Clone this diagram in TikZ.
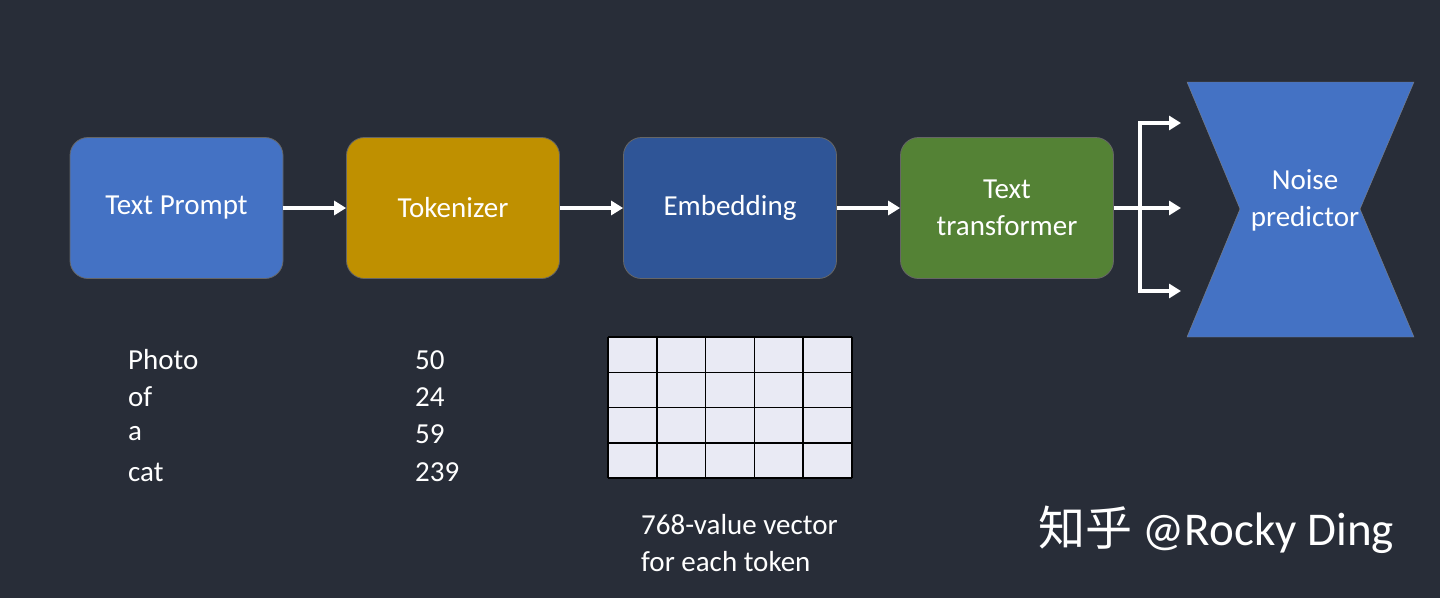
\documentclass[tikz,border=0pt]{standalone}
\usepackage{fontspec}
\setmainfont{Carlito}
\newfontfamily\cjk{Noto Sans CJK SC}
\usetikzlibrary{arrows.meta}
\definecolor{bg}{HTML}{282D38}
\definecolor{cA}{HTML}{4472C4}
\definecolor{cB}{HTML}{BF9000}
\definecolor{cC}{HTML}{2F5597}
\definecolor{cD}{HTML}{548235}
\definecolor{cell}{HTML}{E9EAF4}
\begin{document}
\begin{tikzpicture}[x=1pt,y=-1pt,
  box/.style={draw=black!60,line width=0.8pt,rounded corners=18pt,minimum width=213pt,minimum height=141pt,text=white,font=\fontsize{29}{37}\selectfont,align=center},
  arr/.style={draw=white,line width=4pt,-{Triangle[length=12pt,width=14pt]}},
  lbl/.style={text=white,font=\fontsize{29}{33}\selectfont,anchor=west,inner sep=0pt}]
\fill[bg] (0,0) rectangle (1440,598);
\useasboundingbox (0,0) rectangle (1440,598);
\node[box,fill=cA] (tp) at (176.5,208) {Text Prompt};
\node[box,fill=cB] (tk) at (453,208) {Tokenizer};
\node[box,fill=cC] (em) at (730,208) {Embedding};
\node[box,fill=cD] (tt) at (1007,208) {Text\\transformer};
\draw[arr] (tp) -- (tk);
\draw[arr] (tk) -- (em);
\draw[arr] (em) -- (tt);
% hourglass
\fill[cA,draw=black!50] (1187,82) -- (1414,82) -- (1360,209) -- (1414,337) -- (1187,337) -- (1240,209) -- cycle;
\node[text=white,font=\fontsize{29}{37}\selectfont,align=center] (np) at (1305,200) {Noise\\predictor};
\coordinate (f0) at (1140,208);
\coordinate (f1) at (1140,123);
\coordinate (f3) at (1140,291);
\coordinate (t1) at (1181,123);
\coordinate (t2) at (1181,208);
\coordinate (t3) at (1181,291);
\draw[white,line width=4pt] (tt.east) -- (f0);
\draw[white,line width=4pt] (f1) -- (f3);
\draw[arr] ([xshift=-2pt]f1) -- (t1);
\draw[arr] (f0) -- (t2);
\draw[arr] ([xshift=-2pt]f3) -- (t3);
% words
\node[lbl] (w1) at (128,360) {Photo};
\node[lbl] (w2) at (128,397) {of};
\node[lbl] (w3) at (128,434) {a};
\node[lbl] (w4) at (128,472) {cat};
\node[lbl] (n1) at (415,360) {50};
\node[lbl] (n2) at (415,397) {24};
\node[lbl] (n3) at (415,434) {59};
\node[lbl] (n4) at (415,472) {239};
% grid
\fill[cell] (608,337) rectangle (852,478);
\foreach \i in {0,...,5} \draw[black,line width=1.5pt] (608+\i*48.8,337) -- (608+\i*48.8,478);
\foreach \j in {0,...,4} \draw[black,line width=1.5pt] (608,337+\j*35.25) -- (852,337+\j*35.25);
\node[lbl] (v1) at (641,525) {768-value vector};
\node[lbl] (v2) at (641,562) {for each token};
\node[text=white,anchor=west,inner sep=0pt,font=\fontsize{47}{52}\selectfont] (wm) at (1038,530) {{\cjk 知乎} @Rocky Ding};
\end{tikzpicture}
\end{document}
